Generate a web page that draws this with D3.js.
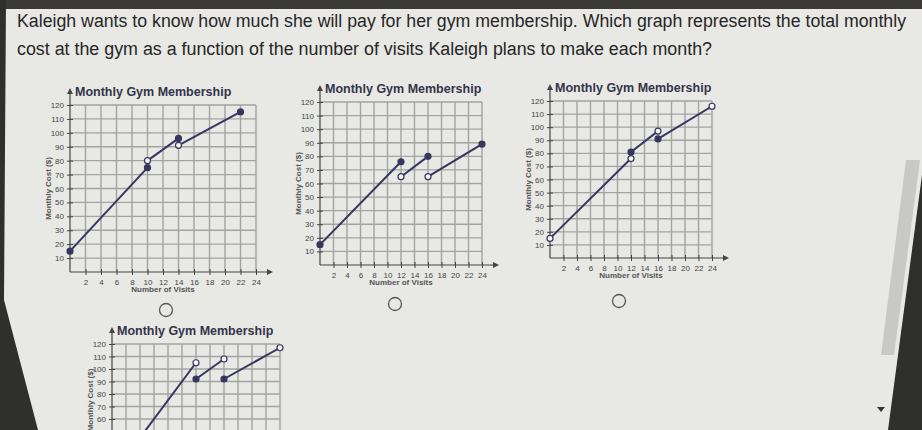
<!DOCTYPE html>
<html>
<head>
<meta charset="utf-8">
<script src="https://cdn.jsdelivr.net/npm/d3@7"></script>
<style>
  body { margin: 0; background: #e8e8e5; }
  svg { display: block; }
</style>
</head>
<body>
<svg id="page" width="922" height="430"></svg>
<script>
// question text
var questionLines = [
  "Kaleigh wants to know how much she will pay for her gym membership. Which graph represents the total monthly",
  "cost at the gym as a function of the number of visits Kaleigh plans to make each month?"
];
var chartTitle = "Monthly Gym Membership";
var xTitle = "Number of Visits";
var yTitle = "Monthly Cost ($)";
var xTicks = [2, 4, 6, 8, 10, 12, 14, 16, 18, 20, 22, 24];
var yTicks = [10, 20, 30, 40, 50, 60, 70, 80, 90, 100, 110, 120];

// segments: [x start, cost start, x end, cost end]
var segA = [[0, 15, 10, 75], [10, 80, 14, 96], [14, 91, 22, 115]];
var openA = [[0, 0], [1, 0], [1, 0]];
var segB = [[0, 15, 12, 76], [12, 65, 16, 80], [16, 65, 24, 89]];
var openB = [[0, 0], [1, 0], [1, 0]];
var segC = [[0, 15, 12, 76], [12, 81, 16, 97], [16, 91, 24, 116]];
var openC = [[1, 1], [0, 1], [0, 1]];
var segD = [[0, 15, 12, 105], [12, 92, 16, 108], [16, 92, 24, 117]];
var openD = [[0, 1], [0, 1], [0, 1]];

var svg = d3.select("#page");

// photo edges
svg.append("rect").attr("x", 0).attr("y", 0).attr("width", 922).attr("height", 9).style("fill", "#3b3a36");
svg.append("path").attr("d", "M0,0 L6,0 L4,300 L38,430 L0,430 Z").style("fill", "#2f2f2d");
svg.append("path").attr("d", "M922,175 L922,430 L888,430 Z").style("fill", "#2f2f2d");
svg.append("path").attr("d", "M906,160 L920,160 L894,355 L881,355 Z").style("fill", "#c8c8c4");
svg.append("path").attr("d", "M877,407 L885,407 L881,412 Z").style("fill", "#333");

svg.selectAll("text.q")
  .data(questionLines)
  .enter()
  .append("text")
  .attr("class", "q")
  .attr("x", 17)
  .attr("y", function (d, i) { return 27 + i * 28; })
  .attr("textLength", function (d, i) { return i == 0 ? 889 : 695; })
  .attr("lengthAdjust", "spacingAndGlyphs")
  .style("font-family", "'Liberation Sans Narrow', 'Liberation Sans', Arial, sans-serif")
  .style("font-size", "18px")
  .style("fill", "#262626")
  .text(function (d) { return d; });

function drawChart(box, segs, opens) {
  var x = d3.scaleLinear().domain([0, 24]).range([box.left, box.right]);
  var y = d3.scaleLinear().domain([0, 120]).range([box.bottom, box.top]);
  var g = svg.append("g");
  var ink = "#444";
  var visible = y(0) < 430;

  // grid
  g.selectAll("line.gx").data(xTicks).enter().append("line")
    .attr("x1", function (d) { return x(d); }).attr("x2", function (d) { return x(d); })
    .attr("y1", y(0)).attr("y2", y(120))
    .style("stroke", "#a3a3a0").style("stroke-width", 1.4);
  g.selectAll("line.gy").data(yTicks).enter().append("line")
    .attr("x1", x(0)).attr("x2", x(24))
    .attr("y1", function (d) { return y(d); }).attr("y2", function (d) { return y(d); })
    .style("stroke", "#a3a3a0").style("stroke-width", 1.4);

  // axes with arrows
  var xAxis = d3.axisBottom(x).tickValues(xTicks).tickSize(3).tickPadding(4);
  var yAxis = d3.axisLeft(y).tickValues(visible ? yTicks : yTicks.filter(function (t) { return y(t) < 424; }))
    .tickSize(3).tickPadding(3);
  var axes = [];
  if (visible) {
    var gx = g.append("g").attr("transform", "translate(0," + y(0) + ")").call(xAxis);
    axes.push(gx);
  }
  var gy = g.append("g").attr("transform", "translate(" + x(0) + ",0)").call(yAxis);
  axes.push(gy);
  axes.forEach(function (a) {
    a.select(".domain").remove();
    a.selectAll("line").style("stroke", ink);
    a.selectAll("text").style("font-family", "Arial, sans-serif").style("font-size", "8px").style("fill", ink);
  });
  if (visible) gx.selectAll("line").attr("y1", -3).attr("y2", 3);
  gy.selectAll("line").attr("x1", -3).attr("x2", 3);
  var xEnd = x(24) + 14, yEnd = y(120) - 14;
  g.append("line").attr("x1", x(0)).attr("x2", xEnd).attr("y1", y(0)).attr("y2", y(0)).style("stroke", ink).style("stroke-width", 1.2);
  g.append("line").attr("x1", x(0)).attr("x2", x(0)).attr("y1", y(0)).attr("y2", yEnd).style("stroke", ink).style("stroke-width", 1.2);
  g.append("path").attr("d", "M" + (xEnd + 3) + "," + y(0) + " l-6,-3 l0,6 Z").style("fill", ink);
  g.append("path").attr("d", "M" + x(0) + "," + (yEnd - 3) + " l-3,6 l6,0 Z").style("fill", ink);

  g.append("text").attr("x", x(0) + 5).attr("y", yEnd + 5)
    .style("font-family", "Arial, sans-serif").style("font-weight", "bold")
    .style("font-size", "12.5px").style("fill", "#34344a").text(chartTitle);
  if (visible) {
    g.append("text").attr("x", x(12)).attr("y", y(0) + 20).attr("text-anchor", "middle")
      .style("font-family", "Arial, sans-serif").style("font-weight", "bold")
      .style("font-size", "8px").style("fill", "#555").text(xTitle);
  }
  g.append("text").attr("transform", "translate(" + (x(0) - 19) + "," + (visible ? y(60) : 400) + ") rotate(-90)")
    .attr("text-anchor", "middle")
    .style("font-family", "Arial, sans-serif").style("font-weight", "bold")
    .style("font-size", "8px").style("fill", "#555").text(yTitle);

  // piecewise lines
  var line = "#363660";
  g.selectAll("line.seg").data(segs).enter().append("line")
    .attr("x1", function (d) { return x(d[0]); }).attr("y1", function (d) { return y(d[1]); })
    .attr("x2", function (d) { return x(d[2]); }).attr("y2", function (d) { return y(d[3]); })
    .style("stroke", line).style("stroke-width", 2);
  var pts = [];
  segs.forEach(function (s, i) {
    pts.push({ x: s[0], y: s[1], open: opens[i][0] });
    pts.push({ x: s[2], y: s[3], open: opens[i][1] });
  });
  g.selectAll("circle.pt").data(pts).enter().append("circle")
    .attr("cx", function (d) { return x(d.x); }).attr("cy", function (d) { return y(d.y); })
    .attr("r", 3)
    .style("fill", function (d) { return d.open ? "#f4f4f2" : line; })
    .style("stroke", line).style("stroke-width", 1.2);
}

drawChart({ left: 70, right: 256, top: 105, bottom: 272 }, segA, openA);
drawChart({ left: 320, right: 482, top: 102, bottom: 265 }, segB, openB);
drawChart({ left: 550, right: 712, top: 101, bottom: 258 }, segC, openC);
drawChart({ left: 112, right: 280, top: 344, bottom: 494 }, segD, openD);

// answer choice circles
var choices = [[166, 310], [395, 304], [619, 301]];
svg.selectAll("circle.choice").data(choices).enter().append("circle")
  .attr("cx", function (d) { return d[0]; }).attr("cy", function (d) { return d[1]; })
  .attr("r", 6.5).style("fill", "none").style("stroke", "#555").style("stroke-width", 1.3);
</script>
</body>
</html>
